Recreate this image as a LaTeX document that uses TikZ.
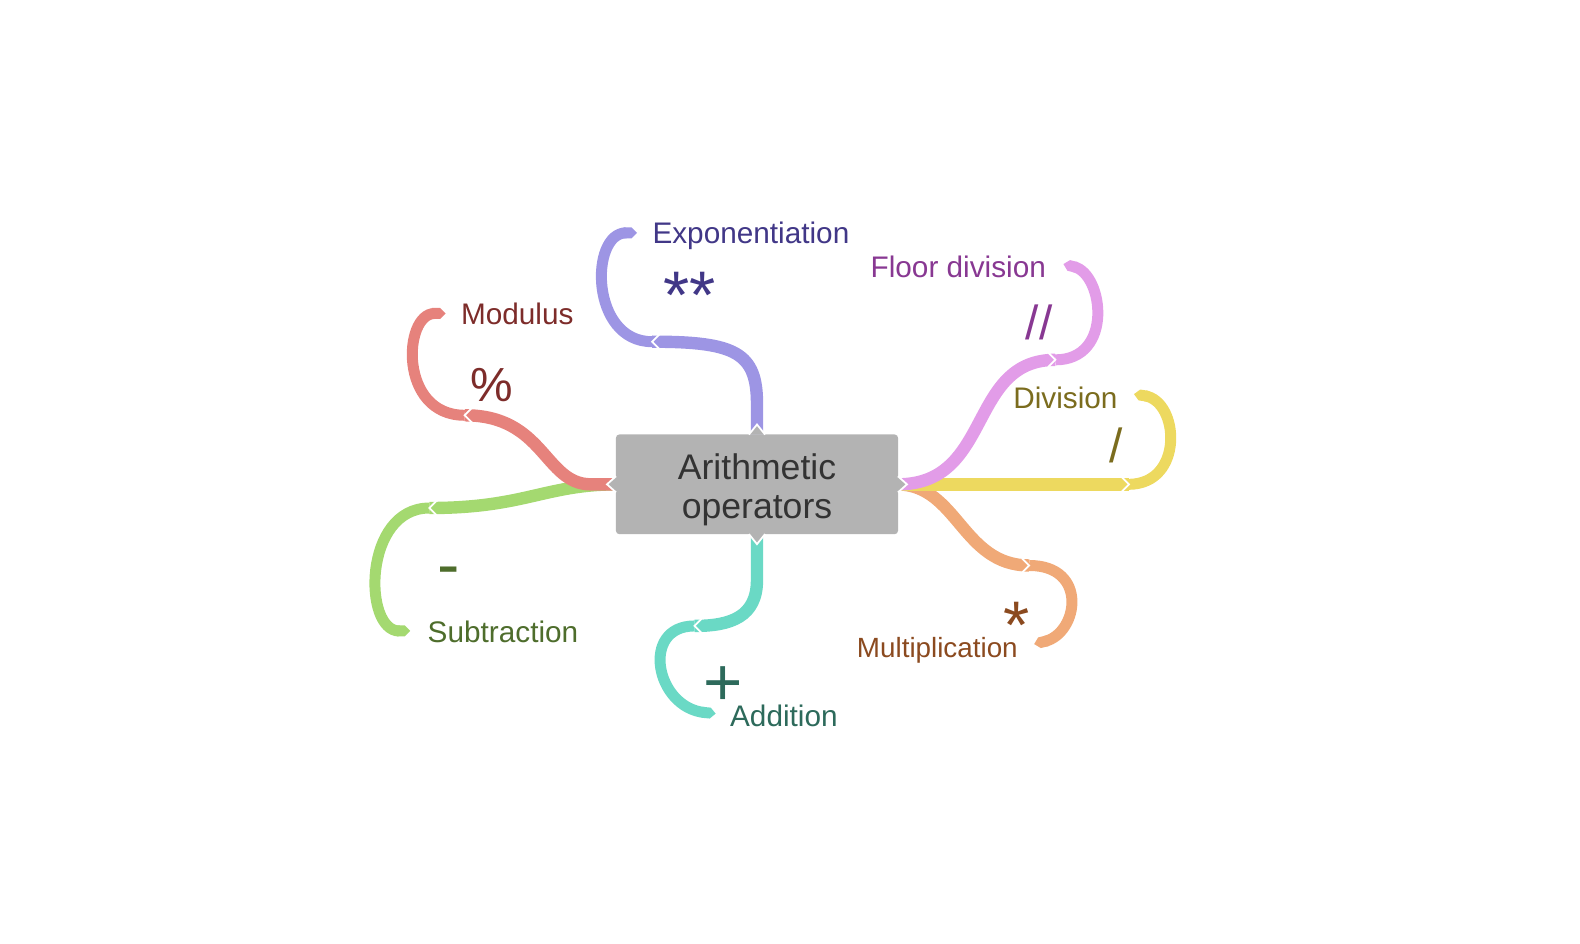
\documentclass[tikz,border=0pt]{standalone}
\usepackage{fontspec}
\setmainfont{Liberation Sans}
\usetikzlibrary{arrows.meta}

\definecolor{boxgray}{HTML}{B3B3B3}
\definecolor{boxink}{HTML}{333333}
\definecolor{expoC}{HTML}{9D95E4}
\definecolor{expoInk}{HTML}{413787}
\definecolor{modC}{HTML}{E6827C}
\definecolor{modInk}{HTML}{7D2C2A}
\definecolor{subC}{HTML}{A4D970}
\definecolor{subInk}{HTML}{4E6D2C}
\definecolor{addC}{HTML}{6AD9C5}
\definecolor{addInk}{HTML}{2D6A5B}
\definecolor{multC}{HTML}{F0A977}
\definecolor{multInk}{HTML}{8B4A1F}
\definecolor{divC}{HTML}{EDD95F}
\definecolor{divInk}{HTML}{7B6C1E}
\definecolor{floorC}{HTML}{E29CE8}
\definecolor{floorInk}{HTML}{883892}

\begin{document}
\begin{tikzpicture}[
    x=0.02cm, y=-0.02cm,
    hub/.style={rectangle, fill=boxgray, rounded corners=2pt, minimum width=5.6cm, minimum height=1.98cm, text=boxink, align=center, font=\fontsize{20.1}{22.1}\selectfont, text height=40pt, text depth=0.9pt},
    ribbon/.style={line width=7pt},
    twig/.style={line width=6.2pt, -{Triangle Cap}},
    joint/.style={white, line width=1pt},
    topic/.style={font=\fontsize{16.8}{20}\selectfont, inner sep=0pt},
    sym/.style={font=\fontsize{38}{40}\selectfont, inner sep=0pt, anchor=base},
    symsmall/.style={font=\fontsize{27}{30}\selectfont, inner sep=0pt, anchor=base}
]
    \useasboundingbox (0,0) rectangle (1567.5,936.5);

    % Centre
    \node[hub] (hub) at (751,480.5) {Arithmetic\\operators};

    % Joints and tips
    \coordinate (expoJ) at (647,339);   \coordinate (expoT) at (632,231);
    \coordinate (modJ) at (461,412);    \coordinate (modT) at (442,311);
    \coordinate (subJ) at (426,504);    \coordinate (subT) at (407,626);
    \coordinate (addJ) at (689,621);    \coordinate (addT) at (710,708);
    \coordinate (multJ) at (1021,561);  \coordinate (multT) at (1026,639);
    \coordinate (divJ) at (1120,480.5); \coordinate (divT) at (1125,391);
    \coordinate (floorJ) at (1047,357); \coordinate (floorT) at (1055,262);

    % Branches, left side
    \draw[ribbon, subC] (hub.west) .. controls (540,481) and (520,504) .. (subJ);
    \draw[twig, subC] (subJ) .. controls (360,504) and (360,626) .. (subT);
    \draw[ribbon, modC] (hub.west) -- ++(-25,0) .. controls (540,480) and (540,412) .. (modJ);
    \draw[twig, modC] (modJ) .. controls (395,412) and (400,311) .. (modT);

    % Branches, top and bottom
    \draw[ribbon, expoC] (hub.north) -- ++(0,-30) .. controls (751,350) and (730,339) .. (expoJ);
    \draw[twig, expoC] (expoJ) .. controls (585,339) and (585,231) .. (expoT);
    \draw[ribbon, addC] (hub.south) -- ++(0,45) .. controls (751,612) and (725,621) .. (addJ);
    \draw[twig, addC] (addJ) .. controls (635,621) and (650,702) .. (addT);

    % Branches, right side
    \draw[ribbon, multC] (hub.east) .. controls (950,482) and (955,561) .. (multJ);
    \draw[twig, multC] (multJ) .. controls (1080,561) and (1070,628) .. (multT);
    \draw[ribbon, divC] (hub.east) -- (divJ);
    \draw[twig, divC] (divJ) .. controls (1175,480) and (1170,398) .. (divT);
    \draw[ribbon, floorC] (hub.east) .. controls (985,480) and (960,357) .. (floorJ);
    \draw[twig, floorC] (floorJ) .. controls (1105,357) and (1095,272) .. (floorT);

    % Notches
    \draw[joint] (expoJ) ++(7,-7) -- (expoJ) -- ++(7,7);
    \draw[joint] (modJ) ++(7,-7) -- (modJ) -- ++(7,7);
    \draw[joint] (subJ) ++(7,-7) -- (subJ) -- ++(7,7);
    \draw[joint] (addJ) ++(7,-7) -- (addJ) -- ++(7,7);
    \draw[joint] (multJ) ++(-7,-7) -- (multJ) -- ++(-7,7);
    \draw[joint] (divJ) ++(-7,-7) -- (divJ) -- ++(-7,7);
    \draw[joint] (floorJ) ++(-7,-7) -- (floorJ) -- ++(-7,7);
    \draw[joint, fill=boxgray] (hub.north) ++(-8,0.5) -- ++(8,-10) -- ++(8,10);
    \draw[joint, fill=boxgray] (hub.south) ++(-8,-0.5) -- ++(8,10) -- ++(8,-10);
    \draw[joint, fill=boxgray] (hub.west) ++(0.5,-8) -- ++(-9,8) -- ++(9,8);
    \draw[joint, fill=boxgray] (hub.east) ++(-0.5,-8) -- ++(9,8) -- ++(-9,8);

    % Labels
    \node[topic, anchor=base west, text=expoInk] (expo) at (647,242) {Exponentiation};
    \node[topic, anchor=base west, text=modInk] (mod) at (457,322) {Modulus};
    \node[topic, anchor=base west, text=subInk] (sub) at (424,637) {Subtraction};
    \node[topic, anchor=base west, text=addInk] (add) at (724,721) {Addition};
    \node[topic, anchor=base east, text=multInk, font=\fontsize{15.7}{19}\selectfont] (mult) at (1010,652) {Multiplication};
    \node[topic, anchor=base east, text=divInk] (div) at (1109,405) {Division};
    \node[topic, anchor=base east, text=floorInk] (floor) at (1038,275) {Floor division};

    % Operators
    \node[sym, text=expoInk] (expoSym) at (684,316) {\raisebox{0pt}[0.72em][-0.42em]{**}};
    \node[symsmall, text=modInk] (modSym) at (488,398) {\%};
    \node[sym, text=subInk] (subSym) at (445,583) {\raisebox{0pt}[0.32em][-0.22em]{-}};
    \node[sym, text=addInk] (addSym) at (717,700) {\raisebox{0pt}[0.6em][-0.1em]{+}};
    \node[sym, text=multInk] (multSym) at (1009,643) {\raisebox{0pt}[0.72em][-0.42em]{*}};
    \node[symsmall, text=divInk] (divSym) at (1107,459) {/};
    \node[symsmall, text=floorInk] (floorSym) at (1031,337) {//};

\end{tikzpicture}
\end{document}
